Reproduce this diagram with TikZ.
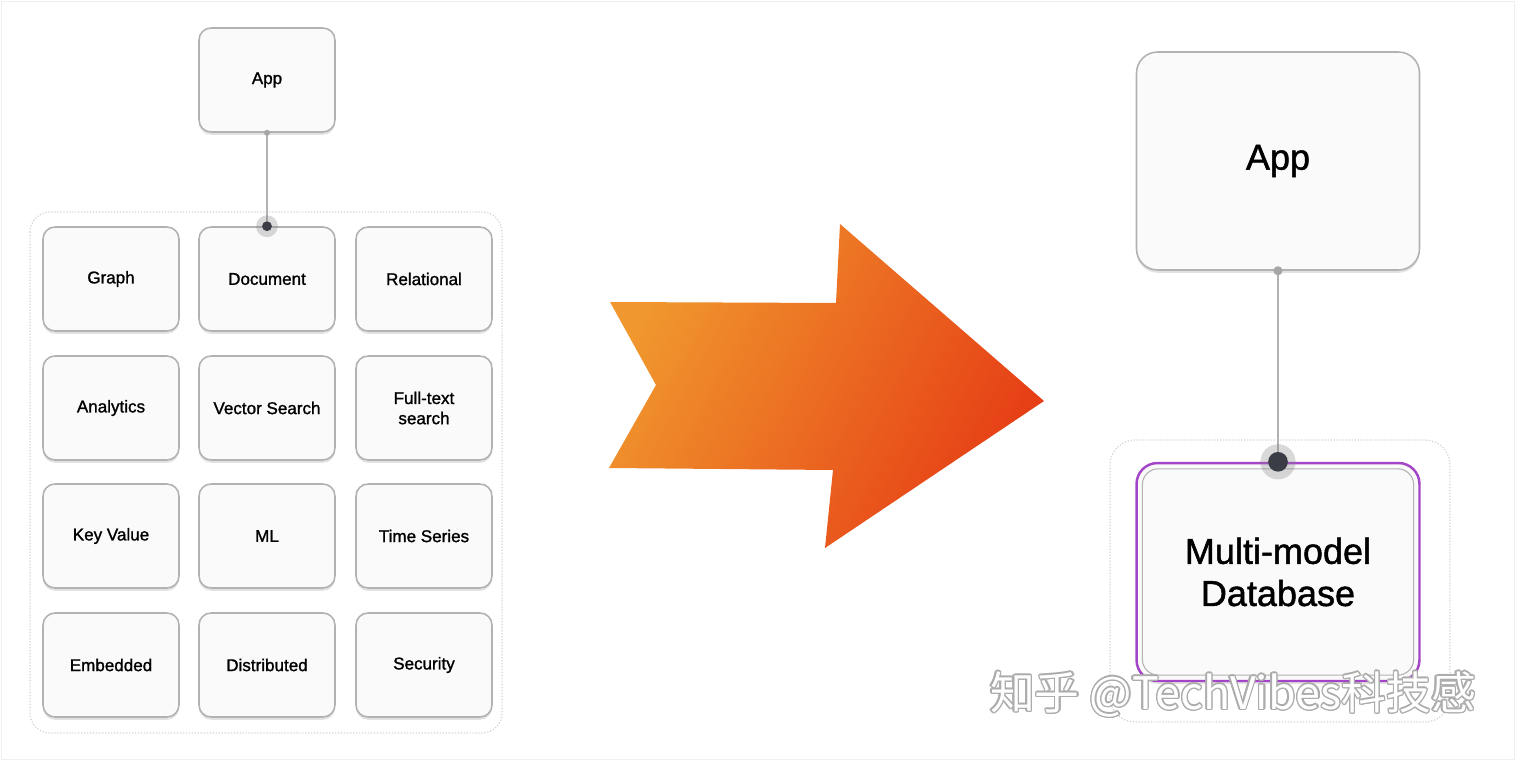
\documentclass[tikz,border=0pt]{standalone}
\usepackage{fontspec}
\setmainfont{Liberation Sans}[RawFeature={embolden=1.3}]
\newfontfamily\cjkfont{Noto Sans CJK SC}
\usepackage{contour}
\usepackage{tikz}
\usetikzlibrary{shadows}

\definecolor{boxline}{HTML}{B2B2B2}
\definecolor{boxfill}{HTML}{FAFAFA}
\definecolor{dotdark}{HTML}{3A3D45}
\definecolor{arrowlight}{HTML}{F0982E}
\definecolor{arrowdark}{HTML}{E63D15}
\definecolor{dbpurple}{HTML}{A445C8}

\tikzset{
	cell/.style={draw=boxline, fill=boxfill, line width=0.9pt, rounded corners=0.24cm,
		minimum width=2.72cm, minimum height=2.08cm, align=center,
		font=\fontsize{9.7}{11.5}\selectfont,
		drop shadow={shadow xshift=0pt, shadow yshift=-1.6pt, opacity=0.25, fill=black!45}},
	bigcell/.style={cell, rounded corners=0.42cm, minimum width=5.66cm, minimum height=4.36cm,
		font=\fontsize{20.5}{24}\selectfont},
	link/.style={gray!60, line width=0.7pt},
	halo/.style={fill=gray, opacity=0.3},
	group/.style={gray!35, densely dotted, line width=0.7pt}
}

\begin{document}
\begin{tikzpicture}[x=0.02cm, y=-0.02cm]

	\useasboundingbox (0,0) rectangle (1515,760);
	\draw[gray!12] (1,1) rectangle (1514,759);

	% left side: one app, many engines
	\draw[group, rounded corners=0.4cm] (30,212) rectangle (502,733);

	\node[cell] (app) at (267,80) {App};

	\node[cell] (graph) at (111,279) {Graph};
	\node[cell] (doc) at (267,279) {Document};
	\node[cell] (rel) at (424,279) {Relational};

	\node[cell] (analytics) at (111,408) {Analytics};
	\node[cell] (vector) at (267,408) {Vector Search};
	\node[cell] (fulltext) at (424,408) {Full-text\\search};

	\node[cell] (kv) at (111,536) {Key Value};
	\node[cell] (ml) at (267,536) {ML};
	\node[cell] (ts) at (424,536) {Time Series};

	\node[cell] (embedded) at (111,665) {Embedded};
	\node[cell] (distributed) at (267,665) {Distributed};
	\node[cell] (security) at (424,665) {Security};

	\draw[link] (app.south) -- (doc.north);
	\fill[gray!70] (app.south) circle (1.7pt);
	\fill[halo] (doc.north) circle (6.2pt);
	\fill[dotdark] (doc.north) circle (2.8pt);

	% the big arrow
	\shade[left color=arrowlight, right color=arrowdark, shading angle=62]
		(610,302) -- (836,303) -- (840,224) -- (1044,401) -- (825,548)
		-- (833,470) -- (609,468) -- (656,385) -- cycle;

	% right side: one app, one database
	\draw[group, rounded corners=0.5cm] (1110,440) rectangle (1450,722);

	\node[bigcell] (bigapp) at (1278,161) {App};
	\node[bigcell, draw=dbpurple, line width=1.4pt] (db) at (1278,572) {Multi-model\\Database};
	\draw[boxline, line width=0.6pt, rounded corners=0.32cm]
		([shift={(4pt,-4pt)}]db.north west) rectangle ([shift={(-4pt,4pt)}]db.south east);

	\draw[link] (bigapp.south) -- (db.north);
	\fill[gray!70] (bigapp.south) circle (2.6pt);
	\fill[halo] (db.north) circle (10pt);
	\fill[dotdark] (db.north) circle (5.6pt);

	% watermark
	\node[text=white, font=\cjkfont\fontsize{25.5}{30}\selectfont] (mark) at (1233,695)
		{\contour{gray!65}{知乎 @TechVibes科技感}};

\end{tikzpicture}
\end{document}
